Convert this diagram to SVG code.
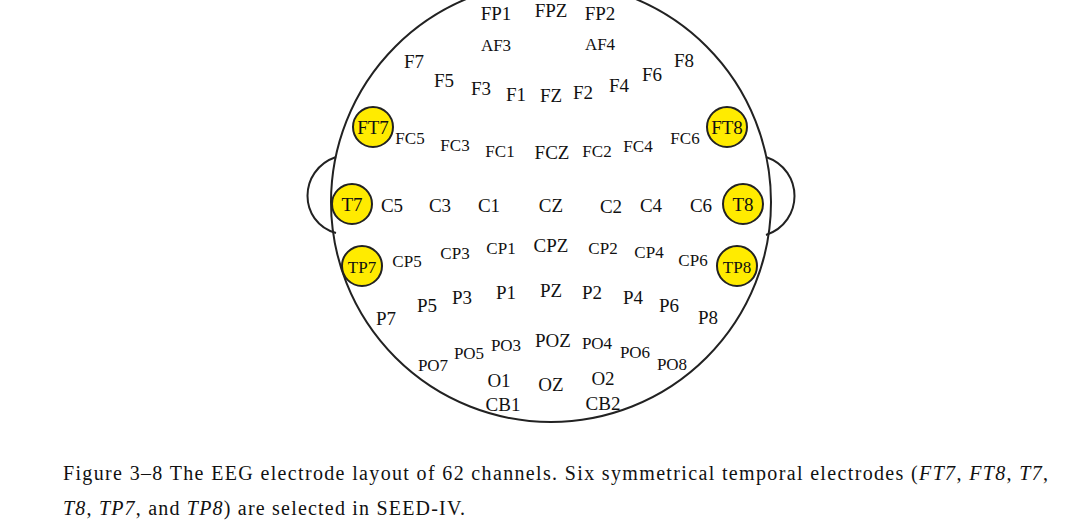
<svg xmlns="http://www.w3.org/2000/svg" width="1068" height="532" viewBox="0 0 1068 532">
<style>
.l{stroke:#222;stroke-width:2;fill:none}
.e{fill:#ffeb00;stroke:#222;stroke-width:2}
text{font-family:"Liberation Serif",serif;font-size:19px;fill:#111;text-anchor:middle}
.s{font-size:17px}
.c{font-size:20px;text-anchor:start}
</style>
<rect width="1068" height="532" fill="#fff"/>
<g id="head">
<circle class="l" cx="551" cy="202" r="220"/>
<path class="l" d="M336,157 C298,170 298,222 336,233"/>
<path class="l" d="M766,157 C804,170 804,222 766,235"/>
</g>
<g id="connectors"></g>
<g id="electrodes">
<circle class="e" cx="373" cy="127" r="20"/><circle class="e" cx="727" cy="127" r="20"/>
<circle class="e" cx="352" cy="204" r="20"/><circle class="e" cx="743" cy="204" r="20"/>
<circle class="e" cx="362" cy="266" r="20"/><circle class="e" cx="737" cy="266" r="20"/>
<text x="373" y="134">FT7</text><text x="727" y="134">FT8</text>
<text x="352" y="211">T7</text><text x="743" y="211">T8</text>
<text x="362" y="273" class="s">TP7</text><text x="737" y="273" class="s">TP8</text>
<text x="496" y="20">FP1</text><text x="551" y="17">FPZ</text><text x="600" y="20">FP2</text>
<text x="496" y="51" class="s">AF3</text><text x="600" y="50" class="s">AF4</text>
<text x="414" y="68">F7</text><text x="444" y="87">F5</text><text x="481" y="95">F3</text><text x="516" y="101">F1</text><text x="551" y="102">FZ</text><text x="583" y="99">F2</text><text x="619" y="92">F4</text><text x="652" y="81">F6</text><text x="684" y="67">F8</text>
<text x="410" y="144" class="s">FC5</text><text x="455" y="151" class="s">FC3</text><text x="500" y="157" class="s">FC1</text><text x="552" y="159">FCZ</text><text x="597" y="157" class="s">FC2</text><text x="638" y="152" class="s">FC4</text><text x="685" y="144" class="s">FC6</text>
<text x="392" y="212">C5</text><text x="440" y="212">C3</text><text x="489" y="212">C1</text><text x="551" y="212">CZ</text><text x="611" y="213">C2</text><text x="651" y="212">C4</text><text x="701" y="212">C6</text>
<text x="407" y="267" class="s">CP5</text><text x="455" y="259" class="s">CP3</text><text x="501" y="254" class="s">CP1</text><text x="551" y="252">CPZ</text><text x="603" y="254" class="s">CP2</text><text x="649" y="258" class="s">CP4</text><text x="693" y="266" class="s">CP6</text>
<text x="386" y="325">P7</text><text x="427" y="312">P5</text><text x="462" y="304">P3</text><text x="506" y="299">P1</text><text x="551" y="297">PZ</text><text x="592" y="299">P2</text><text x="633" y="304">P4</text><text x="669" y="312">P6</text><text x="708" y="324">P8</text>
<text x="433" y="371" class="s">PO7</text><text x="469" y="359" class="s">PO5</text><text x="506" y="351" class="s">PO3</text><text x="553" y="347">POZ</text><text x="597" y="349" class="s">PO4</text><text x="635" y="358" class="s">PO6</text><text x="672" y="370" class="s">PO8</text>
<text x="499" y="387">O1</text><text x="551" y="391">OZ</text><text x="603" y="385">O2</text>
<text x="503" y="411">CB1</text><text x="603" y="410">CB2</text>
</g>
<text class="c" x="63" y="480" textLength="985" lengthAdjust="spacing">Figure 3–8 The EEG electrode layout of 62 channels.  Six symmetrical temporal electrodes (<tspan font-style="italic">FT7</tspan>, <tspan font-style="italic">FT8</tspan>, <tspan font-style="italic">T7</tspan>,</text>
<text class="c" x="63" y="515" textLength="402" lengthAdjust="spacing"><tspan font-style="italic">T8</tspan>, <tspan font-style="italic">TP7</tspan>, and <tspan font-style="italic">TP8</tspan>) are selected in SEED-IV.</text>
</svg>
